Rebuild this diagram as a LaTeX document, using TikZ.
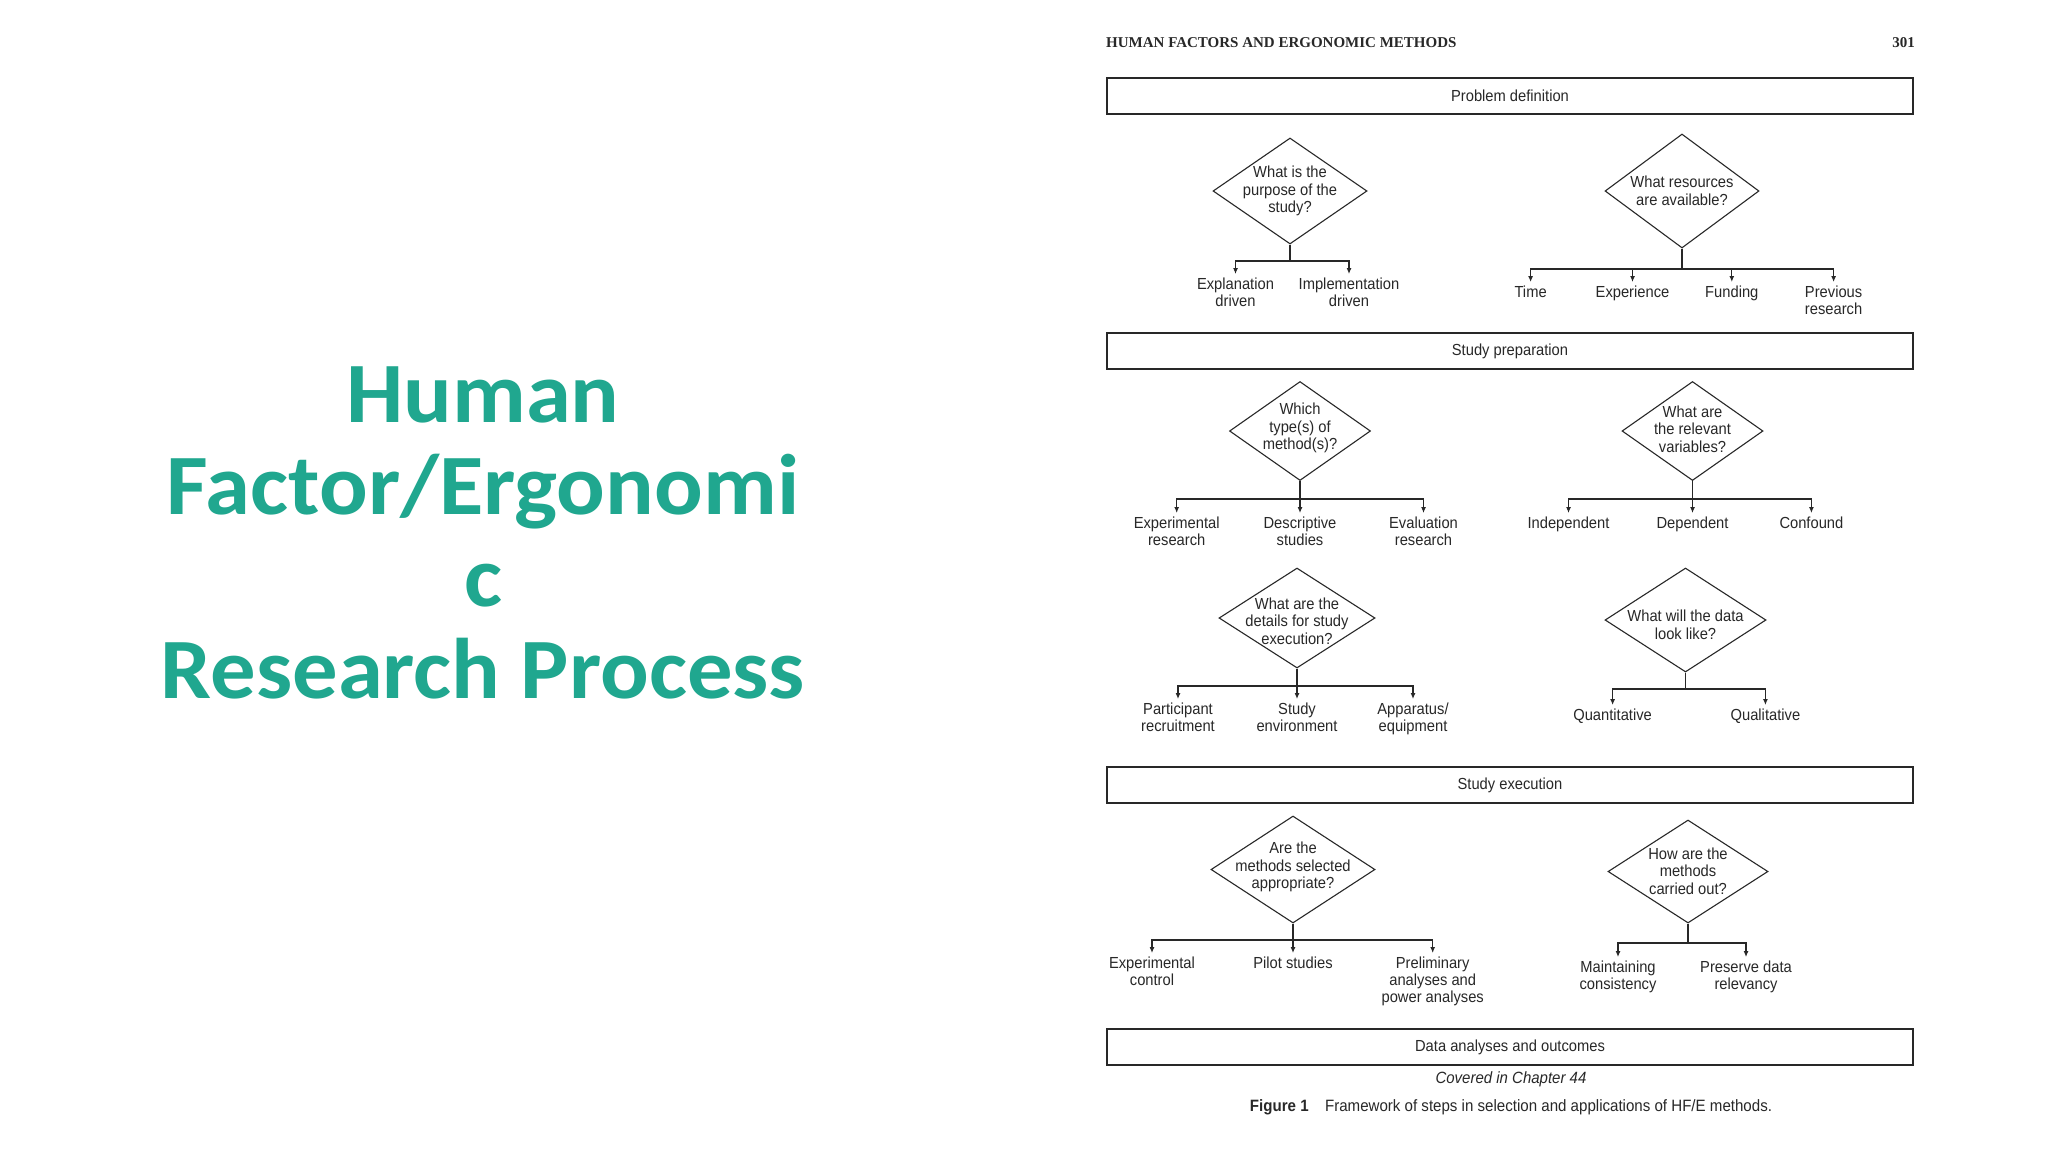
\documentclass[tikz,border=0pt]{standalone}
\usepackage{fontspec}
\setmainfont{Liberation Sans}
\newfontfamily\dfont[FakeStretch=0.92]{Liberation Sans}
\newfontfamily\hfont{Liberation Serif}
\newfontfamily\tfont[FakeStretch=1.055]{Carlito}
\usetikzlibrary{shapes.geometric,arrows.meta}
\definecolor{teal1}{RGB}{32,167,143}
\definecolor{ink}{RGB}{40,40,40}
\begin{document}
\begin{tikzpicture}[x=1pt,y=-1pt,
  stage/.style={draw=ink, line width=1.6pt, minimum width=806pt, minimum height=36pt, inner sep=0pt, font=\dfont\fontsize{16}{17}\selectfont, text=ink},
  dia/.style={diamond, draw=ink, line width=1.1pt, inner sep=0pt},
  qtext/.style={align=center, font=\dfont\fontsize{16}{17.5}\selectfont, text=ink, inner sep=0pt},
  lbl/.style={anchor=north, align=center, font=\dfont\fontsize{16}{17}\selectfont, text=ink, inner xsep=0pt, inner ysep=4pt},
  conn/.style={draw=ink, line width=1.1pt, -{Latex[length=6pt,width=5pt]}},
  ttl/.style={text=teal1, font=\tfont\bfseries\fontsize{86}{92}\selectfont, anchor=base, inner sep=0pt}
]
\fill[white] (0,0) rectangle (2048,1152);
\useasboundingbox (0,0) rectangle (2048,1152);

% title
\node[ttl] (t1) at (483,422) {Human};
\node[ttl] (t2) at (483,514) {Factor/Ergonomi};
\node[ttl] (t3) at (483,606) {c};
\node[ttl] (t4) at (483,698) {Research Process};

% header
\node[anchor=base west, inner sep=0pt, font=\hfont\bfseries\fontsize{15}{17}\selectfont, text=ink] (hdr) at (1106,47) {HUMAN FACTORS AND ERGONOMIC METHODS};
\node[anchor=base east, inner sep=0pt, font=\hfont\bfseries\fontsize{15}{17}\selectfont, text=ink] (pg) at (1915,47) {301};

% stage boxes
\node[stage] (s1) at (1510,96) {Problem definition};
\node[stage] (s2) at (1510,351) {Study preparation};
\node[stage] (s3) at (1510,785) {Study execution};
\node[stage] (s4) at (1510,1047) {Data analyses and outcomes};

% diamonds
\node[dia, minimum width=154pt, minimum height=106pt] (d1) at (1290,191) {};
\node[qtext] (q1) at (d1) {What is the\\purpose of the\\study?};
\node[dia, minimum width=154pt, minimum height=114pt] (d2) at (1682,191) {};
\node[qtext] (q2) at (d2) {What resources\\are available?};
\node[dia, minimum width=141pt, minimum height=99pt] (d3) at (1300,431) {};
\node[qtext] (q3) at (1300,428) {Which\\type(s) of\\method(s)?};
\node[dia, minimum width=141pt, minimum height=99pt] (d4) at (1692.5,431) {};
\node[qtext] (q4) at (1692.5,429) {What are\\the relevant\\variables?};
\node[dia, minimum width=156pt, minimum height=100pt] (d5) at (1297,618) {};
\node[qtext] (q5) at (1297,621) {What are the\\details for study\\execution?};
\node[dia, minimum width=161pt, minimum height=104pt] (d6) at (1685.5,620) {};
\node[qtext] (q6) at (1685.5,625) {What will the data\\look like?};
\node[dia, minimum width=164pt, minimum height=107pt] (d7) at (1293,869.5) {};
\node[qtext] (q7) at (1293,867) {Are the\\methods selected\\appropriate?};
\node[dia, minimum width=160pt, minimum height=103pt] (d8) at (1688,871.5) {};
\node[qtext] (q8) at (1688,871) {How are the\\methods\\carried out?};

% branch levels
\coordinate (b1) at (0,261);
\coordinate (b2) at (0,269);
\coordinate (b3) at (0,499);
\coordinate (b4) at (0,499);
\coordinate (b5) at (0,686);
\coordinate (b6) at (0,689);
\coordinate (b7) at (0,940);
\coordinate (b8) at (0,943);

% labels
\node[lbl] (l11) at (1235.5,274) {Explanation\\driven};
\node[lbl] (l12) at (1349,274) {Implementation\\driven};

\node[lbl] (l21) at (1530.6,282) {Time};
\node[lbl] (l22) at (1632.5,282) {Experience};
\node[lbl] (l23) at (1731.8,282) {Funding};
\node[lbl] (l24) at (1833.6,282) {Previous\\research};

\node[lbl] (l31) at (1176.7,513) {Experimental\\research};
\node[lbl] (l32) at (1300,513) {Descriptive\\studies};
\node[lbl] (l33) at (1423.5,513) {Evaluation\\research};

\node[lbl] (l41) at (1568.5,513) {Independent};
\node[lbl] (l42) at (1692.5,513) {Dependent};
\node[lbl] (l43) at (1811.4,513) {Confound};

\node[lbl] (l51) at (1178,699) {Participant\\recruitment};
\node[lbl] (l52) at (1297,699) {Study\\environment};
\node[lbl] (l53) at (1413,699) {Apparatus/\\equipment};

\node[lbl] (l61) at (1612.6,705) {Quantitative};
\node[lbl] (l62) at (1765.4,705) {Qualitative};

\node[lbl] (l71) at (1152,953) {Experimental\\control};
\node[lbl] (l72) at (1293,953) {Pilot studies};
\node[lbl] (l73) at (1432.7,953) {Preliminary\\analyses and\\power analyses};

\node[lbl] (l81) at (1618,957) {Maintaining\\consistency};
\node[lbl] (l82) at (1746,957) {Preserve data\\relevancy};

% connectors
\foreach \d/\b/\l in {d1/b1/l11,d1/b1/l12,
  d2/b2/l21,d2/b2/l22,d2/b2/l23,d2/b2/l24,
  d3/b3/l31,d3/b3/l32,d3/b3/l33,
  d4/b4/l41,d4/b4/l42,d4/b4/l43,
  d5/b5/l51,d5/b5/l52,d5/b5/l53,
  d6/b6/l61,d6/b6/l62,
  d7/b7/l71,d7/b7/l72,d7/b7/l73,
  d8/b8/l81,d8/b8/l82}
  \draw[conn] (\d.south) -- (\d.south |- \b) -| (\l.north);

% footer
\node[inner sep=0pt, font=\dfont\itshape\fontsize{16.3}{18}\selectfont, text=ink] (cov) at (1511,1079) {Covered in Chapter 44};
\node[inner sep=0pt, font=\dfont\fontsize{16.4}{18}\selectfont, text=ink] (cap) at (1511,1107) {\textbf{Figure 1}\quad Framework of steps in selection and applications of HF/E methods.};
\end{tikzpicture}
\end{document}
